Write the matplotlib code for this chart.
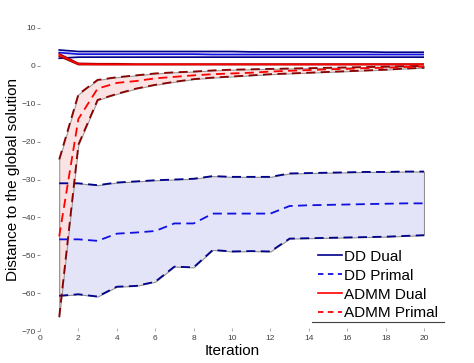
import numpy as np
import matplotlib.pyplot as plt
from matplotlib.lines import Line2D

plt.rcParams['font.family'] = ['Liberation Sans', 'DejaVu Sans']

iters = np.arange(1, 21)

dd_dual_up = [4.2, 3.8, 3.8, 3.8, 3.8, 3.8, 3.8, 3.8, 3.8, 3.8, 3.7, 3.7, 3.7, 3.7, 3.7, 3.7, 3.7, 3.6, 3.6, 3.6]
dd_dual_mean = [3.5, 3.1, 3.1, 3.1, 3.1, 3.1, 3.1, 3.1, 3.0, 3.0, 3.0, 3.0, 3.0, 3.0, 3.0, 3.0, 3.0, 3.0, 3.0, 3.0]
dd_dual_lo = [2.0, 2.3, 2.3, 2.3, 2.3, 2.3, 2.3, 2.3, 2.3, 2.3, 2.3, 2.3, 2.3, 2.3, 2.3, 2.3, 2.3, 2.3, 2.3, 2.3]

dd_primal_up = [-31.0, -31.0, -31.5, -30.8, -30.5, -30.2, -30.0, -29.8, -29.1, -29.3, -29.3, -29.3, -28.4, -28.3, -28.2, -28.1, -28.0, -28.0, -27.9, -27.9]
dd_primal_mean = [-45.8, -45.8, -46.2, -44.3, -44.0, -43.6, -41.6, -41.6, -39.0, -39.0, -39.0, -39.0, -37.0, -36.8, -36.7, -36.6, -36.5, -36.4, -36.3, -36.3]
dd_primal_lo = [-60.7, -60.3, -60.9, -58.3, -58.1, -57.0, -53.0, -53.2, -48.6, -49.0, -48.9, -49.0, -45.6, -45.5, -45.4, -45.3, -45.2, -45.1, -44.9, -44.7]

admm_dual_up = [3.2, 0.7, 0.6, 0.6, 0.5, 0.5, 0.5, 0.5, 0.5, 0.5, 0.5, 0.5, 0.5, 0.5, 0.5, 0.5, 0.5, 0.5, 0.5, 0.5]
admm_dual_mean = [2.9, 0.5, 0.4, 0.4, 0.4, 0.4, 0.4, 0.4, 0.4, 0.4, 0.4, 0.4, 0.4, 0.4, 0.4, 0.4, 0.4, 0.4, 0.4, 0.4]
admm_dual_lo = [2.5, 0.3, 0.3, 0.3, 0.3, 0.3, 0.3, 0.3, 0.3, 0.3, 0.3, 0.3, 0.3, 0.3, 0.3, 0.3, 0.3, 0.3, 0.3, 0.3]

admm_primal_up = [-24.7, -7.5, -3.7, -3.0, -2.5, -2.0, -1.7, -1.5, -1.2, -1.0, -0.9, -0.8, -0.7, -0.6, -0.5, -0.4, -0.3, -0.2, -0.1, 0.0]
admm_primal_mean = [-45.0, -14.0, -6.0, -4.5, -4.0, -3.3, -2.9, -2.5, -2.2, -2.0, -1.8, -1.5, -1.3, -1.1, -0.9, -0.8, -0.6, -0.5, -0.3, -0.2]
admm_primal_lo = [-66.3, -20.8, -9.0, -7.4, -6.0, -5.0, -4.2, -3.5, -3.1, -2.8, -2.5, -2.2, -2.0, -1.8, -1.6, -1.4, -1.2, -1.0, -0.7, -0.5]

xticks = [0, 2, 4, 6, 8, 10, 12, 14, 16, 18, 20]
yticks = [-70, -60, -50, -40, -30, -20, -10, 0, 10]

fig = plt.figure(figsize=(4.74, 3.63), dpi=100)
ax = fig.add_axes([40/474, 1 - 331/363, 384/474, 303/363])

blue = '#1010e0'
navy = '#00008b'
red = '#ff0000'
dred = '#8b0000'

# DD primal band
ax.fill_between(iters, dd_primal_lo, dd_primal_up, facecolor='#e4e4f8', edgecolor='#909090', linewidth=0.8, zorder=1)
ax.plot(iters, dd_primal_up, color=navy, ls=(0, (5, 3)), lw=1.3, zorder=3)
ax.plot(iters, dd_primal_lo, color=navy, ls=(0, (5, 3)), lw=1.3, zorder=3)
ax.plot(iters, dd_primal_mean, color=blue, ls=(0, (5, 3)), lw=1.3, zorder=3)

# ADMM primal band
ax.fill_between(iters, admm_primal_lo, admm_primal_up, facecolor='#fbe0e0', alpha=0.9, edgecolor='#909090', linewidth=0.8, zorder=2)
ax.plot(iters, admm_primal_up, color=dred, ls=(0, (5, 3)), lw=1.3, zorder=4)
ax.plot(iters, admm_primal_lo, color=dred, ls=(0, (5, 3)), lw=1.3, zorder=4)
ax.plot(iters, admm_primal_mean, color=red, ls=(0, (5, 3)), lw=1.3, zorder=4)

# DD dual band
ax.fill_between(iters, dd_dual_lo, dd_dual_up, facecolor='#e4e4f8', edgecolor='none', zorder=2)
ax.plot(iters, dd_dual_up, color=navy, lw=1.2, zorder=5)
ax.plot(iters, dd_dual_lo, color=navy, lw=1.2, zorder=5)
ax.plot(iters, dd_dual_mean, color=blue, lw=1.2, zorder=5)

# ADMM dual band
ax.fill_between(iters, admm_dual_lo, admm_dual_up, facecolor='#fbe0e0', edgecolor='none', zorder=2)
ax.plot(iters, admm_dual_up, color=dred, lw=1.0, zorder=5)
ax.plot(iters, admm_dual_lo, color=dred, lw=1.0, zorder=5)
ax.plot(iters, admm_dual_mean, color=red, lw=1.2, zorder=5)

ax.set_xlim(0, 20)
ax.set_ylim(-70, 10)
ax.set_xticks(xticks)
ax.set_yticks(yticks)
for s in ax.spines.values():
    s.set_visible(False)
ax.tick_params(axis='y', direction='out', length=2, width=0.6, color='#808080', labelsize=6, labelcolor='#404040', pad=1)
ax.tick_params(axis='x', direction='in', length=2, width=0.6, color='#a0a0a0', labelsize=6, labelcolor='#404040', pad=3)

ax.set_xlabel('Iteration', fontsize=11, labelpad=1)
ax.set_ylabel('Distance to the global solution', fontsize=11)
ax.yaxis.set_label_coords(-0.052, 0.5)

handles = [
    Line2D([], [], color=navy, lw=1.2),
    Line2D([], [], color=blue, lw=1.3, ls=(0, (3, 2.5))),
    Line2D([], [], color=red, lw=1.2),
    Line2D([], [], color=red, lw=1.3, ls=(0, (3, 2.5))),
]
labels = ['DD Dual', 'DD Primal', 'ADMM Dual', 'ADMM Primal']
leg = fig.legend(handles, labels, loc='lower left', bbox_to_anchor=(316/474, 1 - 322/363),
                 frameon=False, fontsize=11, handlelength=1.6, handletextpad=0.1,
                 labelspacing=0.32, borderpad=0.1, borderaxespad=0)

fig.add_artist(Line2D([312/474, 444/474], [1 - 322/363, 1 - 322/363], color='#404040', lw=0.8))

fig.savefig('out.png', dpi=100)
